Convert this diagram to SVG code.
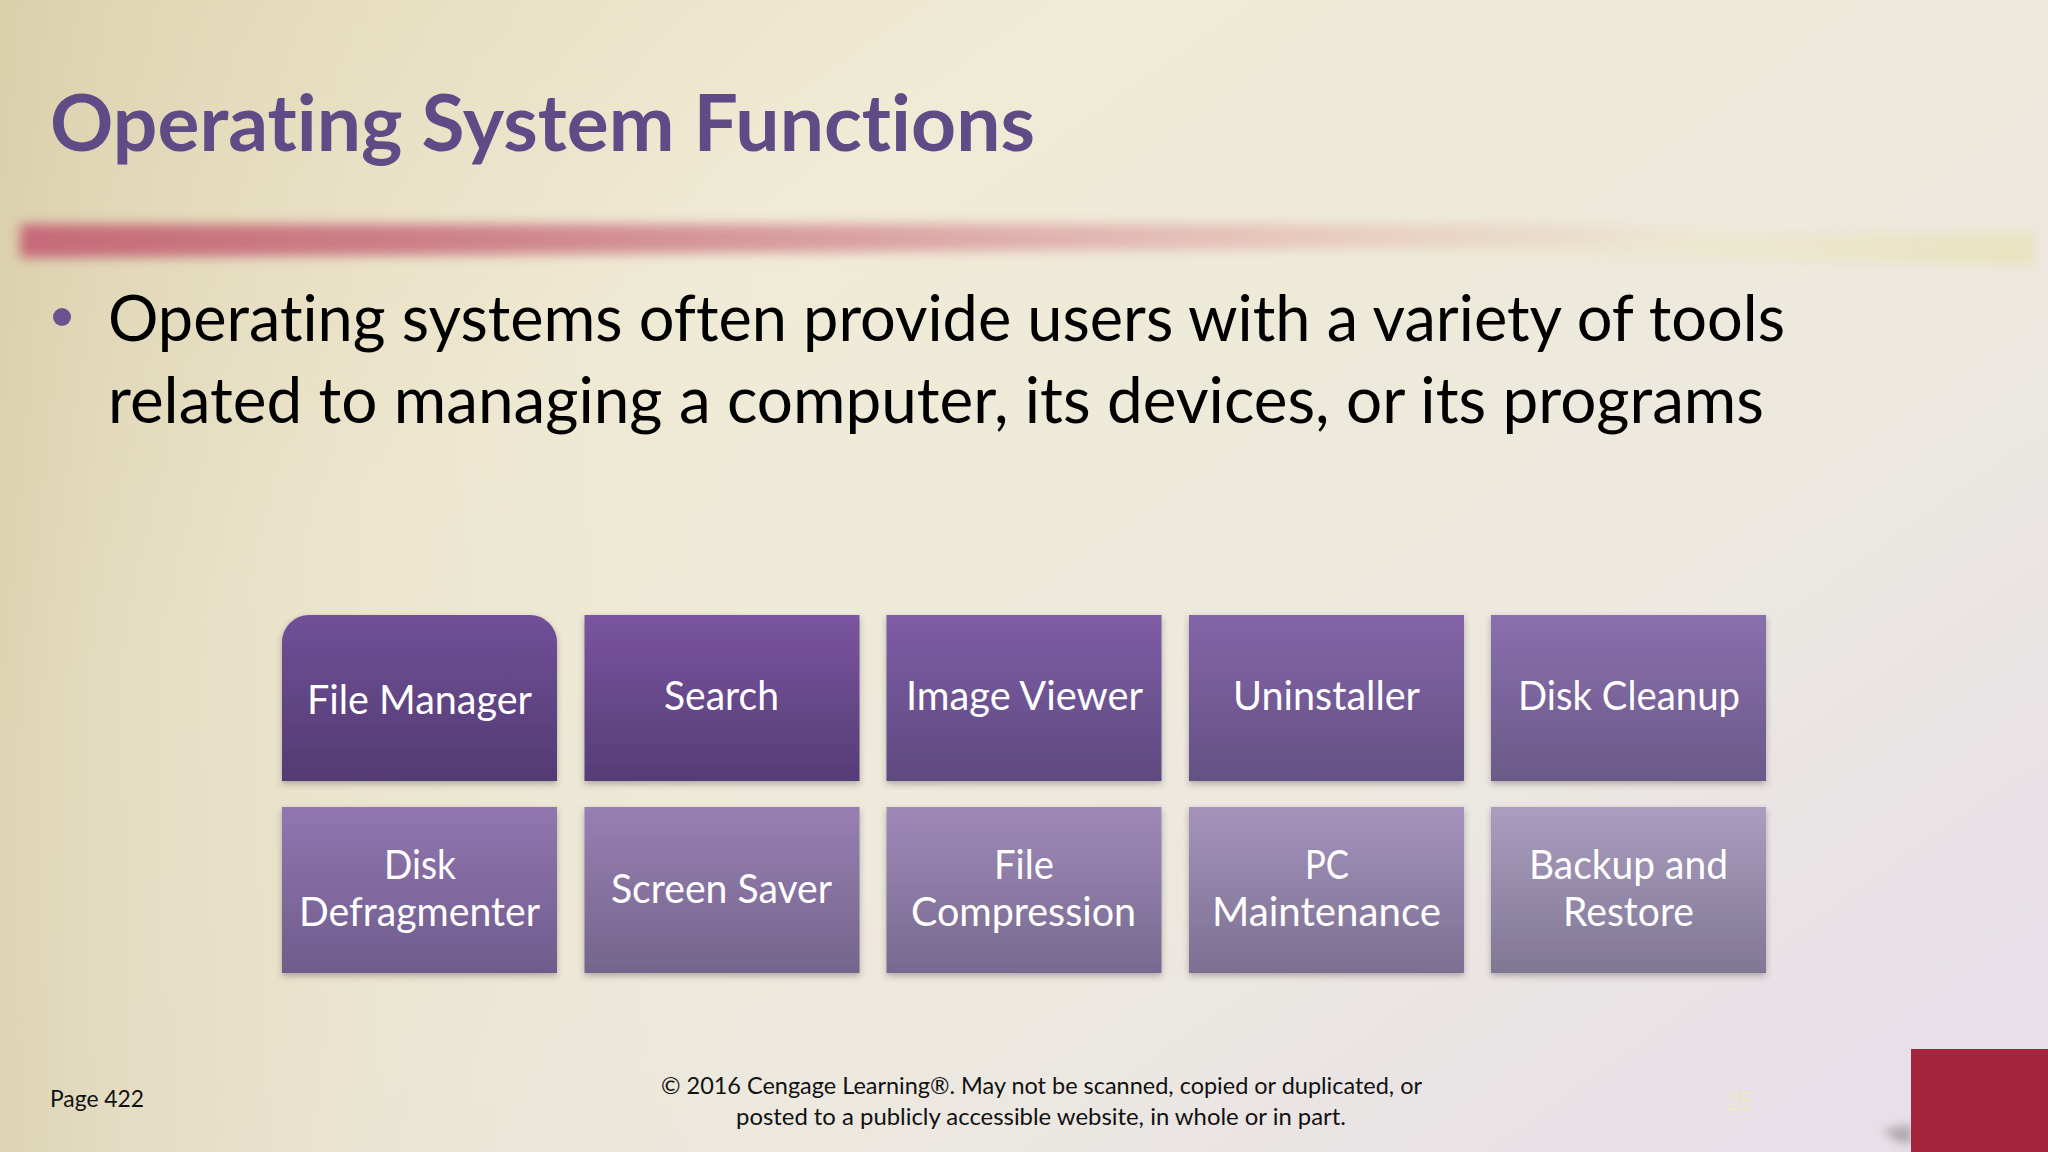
<svg xmlns="http://www.w3.org/2000/svg" width="2048" height="1152" viewBox="0 0 2048 1152">
<style>
text{font-family:"Lato","Carlito","Open Sans","Liberation Sans",sans-serif;font-variant-ligatures:none}
.title{font-size:79px;font-weight:700;fill:#5f4b85}
.body{font-size:64px;fill:#000}
.lbl{font-size:40px;fill:#fff;text-anchor:start}
.foot{font-size:24px;fill:#111}
.box{filter:url(#sh)}
</style>
<defs>
<linearGradient id="bg" x1="0" y1="0" x2="1" y2=".8">
<stop offset="0" stop-color="#e6dcbb"/><stop offset=".32" stop-color="#f0ebd6"/><stop offset=".52" stop-color="#eeead9"/><stop offset=".76" stop-color="#ece8e1"/><stop offset="1" stop-color="#e7e0e8"/>
</linearGradient>
<linearGradient id="bgl" x1="0" y1="0" x2="1" y2="0">
<stop offset="0" stop-color="#d4c8a2" stop-opacity=".65"/><stop offset=".05" stop-color="#d8cdaa" stop-opacity=".5"/><stop offset=".18" stop-color="#e0d6b6" stop-opacity=".25"/><stop offset=".38" stop-color="#e8e0c8" stop-opacity="0"/>
</linearGradient>
<linearGradient id="barR" gradientUnits="userSpaceOnUse" x1="20" y1="0" x2="1720" y2="0">
<stop offset="0" stop-color="#c66a78"/><stop offset=".25" stop-color="#cd8189"/><stop offset=".5" stop-color="#d99f9f" stop-opacity=".95"/><stop offset=".72" stop-color="#e4bcb4" stop-opacity=".85"/><stop offset=".9" stop-color="#e8d0c0" stop-opacity=".55"/><stop offset="1" stop-color="#ead8c8" stop-opacity="0"/>
</linearGradient>
<linearGradient id="barY" gradientUnits="userSpaceOnUse" x1="1300" y1="0" x2="2035" y2="0">
<stop offset="0" stop-color="#ece6c8" stop-opacity="0"/><stop offset=".5" stop-color="#ece7cc" stop-opacity=".7"/><stop offset="1" stop-color="#e8e3c0"/>
</linearGradient>
<filter id="blur" filterUnits="userSpaceOnUse" x="0" y="190" width="2048" height="110"><feGaussianBlur stdDeviation="6"/></filter>
<filter id="blur2" x="-50%" y="-50%" width="200%" height="200%"><feGaussianBlur stdDeviation="5"/></filter>
<filter id="sh" x="-3%" y="-3%" width="106%" height="110%"><feDropShadow dx="0" dy="3" stdDeviation="3" flood-color="#3a3030" flood-opacity=".35"/></filter>
<linearGradient id="g1" x1="0" y1="0" x2="0" y2="1"><stop offset="0" stop-color="#705098"/><stop offset="1" stop-color="#533a72"/></linearGradient>
<linearGradient id="g2" x1="0" y1="0" x2="0" y2="1"><stop offset="0" stop-color="#7a54a0"/><stop offset="1" stop-color="#563c76"/></linearGradient>
<linearGradient id="g3" x1="0" y1="0" x2="0" y2="1"><stop offset="0" stop-color="#7e5ca5"/><stop offset="1" stop-color="#5f4a80"/></linearGradient>
<linearGradient id="g4" x1="0" y1="0" x2="0" y2="1"><stop offset="0" stop-color="#8464a8"/><stop offset="1" stop-color="#645184"/></linearGradient>
<linearGradient id="g5" x1="0" y1="0" x2="0" y2="1"><stop offset="0" stop-color="#8a6fae"/><stop offset="1" stop-color="#6a5a88"/></linearGradient>
<linearGradient id="g6" x1="0" y1="0" x2="0" y2="1"><stop offset="0" stop-color="#9176b0"/><stop offset="1" stop-color="#6f5c8c"/></linearGradient>
<linearGradient id="g7" x1="0" y1="0" x2="0" y2="1"><stop offset="0" stop-color="#987fb2"/><stop offset="1" stop-color="#74658c"/></linearGradient>
<linearGradient id="g8" x1="0" y1="0" x2="0" y2="1"><stop offset="0" stop-color="#9f89b7"/><stop offset="1" stop-color="#776a90"/></linearGradient>
<linearGradient id="g9" x1="0" y1="0" x2="0" y2="1"><stop offset="0" stop-color="#a593bc"/><stop offset="1" stop-color="#7b7092"/></linearGradient>
<linearGradient id="g10" x1="0" y1="0" x2="0" y2="1"><stop offset="0" stop-color="#ab9dc0"/><stop offset="1" stop-color="#807794"/></linearGradient>
</defs>
<rect width="2048" height="1152" fill="url(#bg)"/>
<rect width="2048" height="1152" fill="url(#bgl)"/>
<polygon points="1300,236 2035,232 2035,266 1300,252" fill="url(#barY)" filter="url(#blur)"/>
<polygon points="20,224 1720,224 1720,246 20,258" fill="url(#barR)" filter="url(#blur)"/>
<text class="title" x="50" y="151" textLength="985" lengthAdjust="spacingAndGlyphs">Operating System Functions</text>
<circle cx="62" cy="317" r="9" fill="#6a5490"/>
<text class="body" x="108" y="341" textLength="1677" lengthAdjust="spacingAndGlyphs">Operating systems often provide users with a variety of tools</text>
<text class="body" x="108" y="423" textLength="1656" lengthAdjust="spacingAndGlyphs">related to managing a computer, its devices, or its programs</text>
<g id="node-file-manager"><path class="box" d="M282 642a27 27 0 0 1 27-27h221a27 27 0 0 1 27 27v139h-275z" fill="url(#g1)"/><text class="lbl" x="307" y="714" textLength="225" lengthAdjust="spacingAndGlyphs">File Manager</text></g>
<g id="node-search"><rect class="box" x="584.500" y="615" width="275" height="166" fill="url(#g2)"/><text class="lbl" x="664" y="710" textLength="115" lengthAdjust="spacingAndGlyphs">Search</text></g>
<g id="node-image-viewer"><rect class="box" x="886.500" y="615" width="275" height="166" fill="url(#g3)"/><text class="lbl" x="906" y="710" textLength="237" lengthAdjust="spacingAndGlyphs">Image Viewer</text></g>
<g id="node-uninstaller"><rect class="box" x="1189" y="615" width="275" height="166" fill="url(#g4)"/><text class="lbl" x="1233" y="710" textLength="187" lengthAdjust="spacingAndGlyphs">Uninstaller</text></g>
<g id="node-disk-cleanup"><rect class="box" x="1491" y="615" width="275" height="166" fill="url(#g5)"/><text class="lbl" x="1518" y="710" textLength="222" lengthAdjust="spacingAndGlyphs">Disk Cleanup</text></g>
<g id="node-disk-defragmenter"><rect class="box" x="282" y="807" width="275" height="166" fill="url(#g6)"/><text class="lbl" x="384" y="879" textLength="72" lengthAdjust="spacingAndGlyphs">Disk</text><text class="lbl" x="299" y="926" textLength="241" lengthAdjust="spacingAndGlyphs">Defragmenter</text></g>
<g id="node-screen-saver"><rect class="box" x="584.500" y="807" width="275" height="166" fill="url(#g7)"/><text class="lbl" x="611" y="903" textLength="221" lengthAdjust="spacingAndGlyphs">Screen Saver</text></g>
<g id="node-file-compression"><rect class="box" x="886.500" y="807" width="275" height="166" fill="url(#g8)"/><text class="lbl" x="994" y="879" textLength="60" lengthAdjust="spacingAndGlyphs">File</text><text class="lbl" x="911" y="926" textLength="225" lengthAdjust="spacingAndGlyphs">Compression</text></g>
<g id="node-pc-maintenance"><rect class="box" x="1189" y="807" width="275" height="166" fill="url(#g9)"/><text class="lbl" x="1305" y="879" textLength="44" lengthAdjust="spacingAndGlyphs">PC</text><text class="lbl" x="1212" y="926" textLength="229" lengthAdjust="spacingAndGlyphs">Maintenance</text></g>
<g id="node-backup-restore"><rect class="box" x="1491" y="807" width="275" height="166" fill="url(#g10)"/><text class="lbl" x="1529" y="879" textLength="199" lengthAdjust="spacingAndGlyphs">Backup and</text><text class="lbl" x="1563" y="926" textLength="131" lengthAdjust="spacingAndGlyphs">Restore</text></g>
<text class="foot" x="50" y="1107" textLength="94" lengthAdjust="spacingAndGlyphs">Page 422</text>
<text class="foot" x="661" y="1094" textLength="761" lengthAdjust="spacingAndGlyphs">© 2016 Cengage Learning®. May not be scanned, copied or duplicated, or</text>
<text class="foot" x="736" y="1125" textLength="610" lengthAdjust="spacingAndGlyphs">posted to a publicly accessible website, in whole or in part.</text>
<text x="1727" y="1110" font-size="25" fill="#ecebc4" textLength="25" lengthAdjust="spacingAndGlyphs">25</text>
<path d="M1882 1130l30-6v20l-14-2z" fill="#8a8488" opacity=".6" filter="url(#blur2)"/>
<rect x="1911" y="1049" width="137" height="103" fill="#a4243b"/>
</svg>
